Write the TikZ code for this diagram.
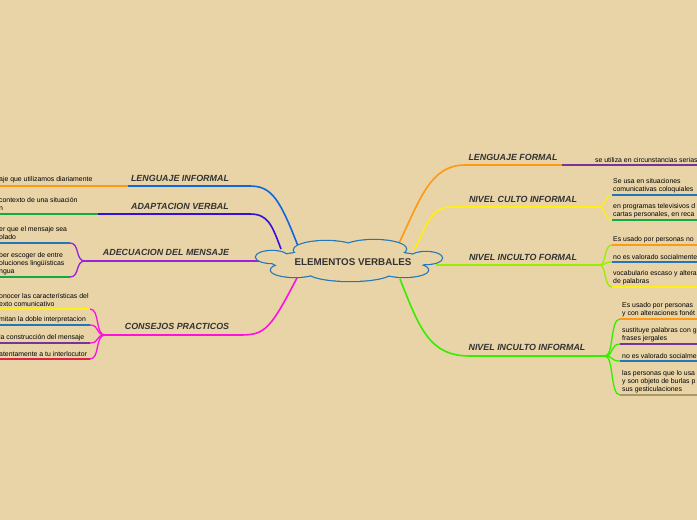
\documentclass[tikz,border=0pt]{standalone}
\usepackage{fontspec}
\setmainfont{Liberation Sans}
\definecolor{bg}{HTML}{E9D4A8}
\definecolor{cblue}{HTML}{1166DD}
\definecolor{cviol}{HTML}{3311DD}
\definecolor{cpurp}{HTML}{9922DD}
\definecolor{cmag}{HTML}{FF11DD}
\definecolor{corange}{HTML}{FF9911}
\definecolor{cgreen}{HTML}{11AA44}
\definecolor{cyellow}{HTML}{FFEE11}
\definecolor{clblue}{HTML}{2277BB}
\definecolor{cdpurp}{HTML}{773399}
\definecolor{cred}{HTML}{DD2244}
\definecolor{cchart}{HTML}{99EE00}
\definecolor{clime}{HTML}{33EE00}
\definecolor{ctan}{HTML}{AA9966}
\definecolor{ctxt}{HTML}{333333}
\tikzset{
 head/.style={font=\fontsize{8.9}{10}\selectfont\bfseries\itshape, text=ctxt, inner sep=1pt},
 item/.style={font=\fontsize{6.9}{8}\selectfont, text=black, align=left, inner sep=0pt, anchor=south west},
 br/.style={line width=1.6pt},
 sb/.style={line width=1.3pt},
}
\begin{document}
\begin{tikzpicture}[x=1pt,y=-1pt]
\useasboundingbox[fill=bg] (0,0) rectangle (697,520);
% ---- left
\draw[br,cblue] (298,246) .. controls (280,200) and (272,186) .. (250,186) -- (128,186);
\draw[sb,corange] (128,186) -- (0,186);
\node[head,anchor=south] (h1) at (180,183) {LENGUAJE INFORMAL};
\node[item] (t1) at (-1,183) {aje que utilizamos diariamente};

\draw[br,cviol] (281,249) .. controls (272,225) and (268,214) .. (250,214) -- (98,214);
\draw[sb,cgreen] (98,214) -- (0,214);
\node[head,anchor=south] (h2) at (180,211) {ADAPTACION VERBAL};
\node[item] (t2) at (-1,211) {contexto de una situación\\n};

\draw[br,cpurp] (262,261) -- (85,261);
\node[head,anchor=south] (h3) at (166,257) {ADECUACION DEL MENSAJE};
\draw[sb,cpurp] (85,261) .. controls (75,261) and (80,243) .. (70,243);
\draw[sb,cpurp] (85,261) .. controls (75,261) and (80,277) .. (70,277);
\draw[sb,clblue] (70,243) -- (0,243);
\draw[sb,cgreen] (70,277) -- (0,277);
\node[item] (t3) at (-1,241) {er que el mensaje sea\\plado};
\node[item] (t4) at (-1,275) {ber escoger  de entre\\oluciones lingüísticas\\ngua};

\draw[br,cmag] (298,276) .. controls (270,330) and (265,335) .. (240,335) -- (105,335);
\node[head,anchor=south] (h4) at (177,331) {CONSEJOS PRACTICOS};
\foreach \y/\c in {309/cyellow,325/clblue,343/cdpurp,359/cred}{
 \draw[sb,cmag] (105,335) .. controls (95,335) and (100,\y) .. (90,\y);
 \draw[sb,\c] (90,\y) -- (0,\y);
}
\node[item] (t5) at (-1,307) {onocer las características del\\exto comunicativo};
\node[item] (t6) at (-1,323) {mitan la doble interpretacion};
\node[item] (t7) at (-1,341) {la construcción del mensaje};
\node[item] (t8) at (-1,357) {atentamente a tu interlocutor};
% ---- right
\draw[br,corange] (399,243) .. controls (420,200) and (430,165) .. (465,165) -- (562,165);
\draw[sb,cdpurp] (562,165) -- (697,165);
\node[head,anchor=south] (h5) at (513,162) {LENGUAJE FORMAL};
\node[item] (t9) at (595,163) {se utiliza en circunstancias serias};

\draw[br,cyellow] (414,250) .. controls (425,230) and (430,207) .. (450,207) -- (600,207);
\node[head,anchor=south] (h6) at (523,204) {NIVEL CULTO INFORMAL};
\draw[sb,cyellow] (600,207) .. controls (605,207) and (605,195) .. (612,195);
\draw[sb,cyellow] (600,207) .. controls (605,207) and (605,220) .. (612,220);
\draw[sb,clblue] (612,195) -- (697,195);
\draw[sb,cgreen] (612,220) -- (697,220);
\node[item] (t10) at (613,193) {Se usa en situaciones\\comunicativas coloquiales};
\node[item] (t11) at (613,218) {en programas televisivos d\\cartas personales, en reca};

\draw[br,cchart] (436,265) -- (600,265);
\node[head,anchor=south] (h7) at (523,262) {NIVEL INCULTO FORMAL};
\foreach \y/\c in {245/corange,262/clblue,287/cyellow}{
 \draw[sb,cchart] (600,265) .. controls (606,265) and (604,\y) .. (612,\y);
 \draw[sb,\c] (612,\y) -- (697,\y);
}
\node[item] (t12) at (613,243) {Es usado por personas no};
\node[item] (t13) at (613,260) {no es valorado socialmente};
\node[item] (t14) at (613,285) {vocabulario escaso y altera\\de palabras};

\draw[br,clime] (400,279) .. controls (420,330) and (430,356) .. (470,356) -- (605,356);
\node[head,anchor=south] (h8) at (527,352) {NIVEL INCULTO INFORMAL};
\foreach \y/\c in {319/corange,344/cdpurp,361/clblue,395/ctan}{
 \draw[sb,clime] (605,356) .. controls (614,356) and (610,\y) .. (620,\y);
 \draw[sb,\c] (620,\y) -- (697,\y);
}
\node[item] (t15) at (622,317) {Es usado por personas\\y con alteraciones fonét};
\node[item] (t16) at (622,342) {sustituye palabras con g\\ frases jergales};
\node[item] (t17) at (622,359) {no es valorado socialme};
\node[item] (t18) at (622,393) {las personas que lo usa\\y son objeto de burlas p\\sus gesticulaciones};
% center cloud
\def\cloudparts{
 (349,261) ellipse [x radius=78, y radius=11]
 (326,250) ellipse [x radius=32, y radius=9]
 (374,249) ellipse [x radius=32, y radius=9]
 (295,270) ellipse [x radius=24, y radius=7]
 (404,270) ellipse [x radius=24, y radius=7]
 (350,272) ellipse [x radius=42, y radius=9]
 (272,257) ellipse [x radius=16, y radius=6]
 (426,258) ellipse [x radius=16, y radius=6]
}
\draw[clblue, line width=2.4pt] \cloudparts;
\fill[bg] \cloudparts;
\node[font=\fontsize{9.8}{10}\selectfont\bfseries, text=ctxt] (c) at (353,262) {ELEMENTOS VERBALES};
\end{tikzpicture}
\end{document}
